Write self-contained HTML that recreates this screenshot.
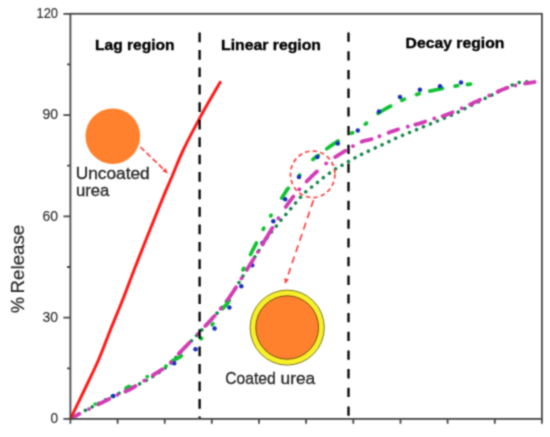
<!DOCTYPE html>
<html lang="en"><head><meta charset="utf-8"><title>Release chart</title>
<style>html,body{margin:0;padding:0;background:#fff}body{width:550px;height:437px;overflow:hidden}svg{display:block}svg text{font-family:"Liberation Sans",sans-serif}</style></head>
<body>
<svg width="550" height="437" viewBox="0 0 550 437">
<defs><filter id="bl" x="-5" y="-5" width="560" height="447" filterUnits="userSpaceOnUse" color-interpolation-filters="sRGB"><feConvolveMatrix order="3" kernelMatrix="0.0441 0.1218 0.0441 0.1218 0.3364 0.1218 0.0441 0.1218 0.0441" divisor="1" edgeMode="duplicate" preserveAlpha="true"/></filter></defs>
<g filter="url(#bl)">
<rect x="-20" y="-20" width="590" height="477" fill="#fff"/>
<g fill="none" stroke-linecap="butt">
<path d="M70.8 418.5L71.1 418.3L71.4 418.2L71.7 418.0L72.0 417.8L72.4 417.6L72.7 417.4L73.1 417.2L73.5 416.9L74.0 416.7L74.4 416.4L74.9 416.1L75.4 415.9L75.9 415.6L76.5 415.2L77.1 414.9L77.7 414.6L78.3 414.2L78.9 413.9L79.6 413.5L80.3 413.1L81.1 412.7L81.9 412.3L82.7 411.8L83.5 411.4L84.4 410.9L85.3 410.4L86.3 409.9L87.4 409.3L88.5 408.7L89.7 408.1L90.9 407.5L92.1 406.9L93.3 406.2L94.6 405.5L95.9 404.9L97.2 404.2L98.5 403.5L99.8 402.8L101.1 402.1L102.4 401.5L103.7 400.8L104.9 400.2L106.1 399.6L107.3 399.0L108.5 398.4L109.6 397.8L110.6 397.3L111.6 396.8L112.5 396.3L113.5 395.9L114.4 395.5L115.2 395.0L116.1 394.7L116.9 394.3L117.7 393.9L118.5 393.6L119.2 393.2L120.0 392.9L120.7 392.6L121.4 392.2L122.1 391.9L122.8 391.6L123.5 391.3L124.2 391.0L124.9 390.7L125.6 390.4L126.3 390.1L127.0 389.8L127.7 389.5L128.4 389.2L129.1 388.8L129.8 388.5L130.5 388.2L131.2 387.8L131.9 387.5L132.6 387.2L133.3 386.9L133.9 386.6L134.6 386.3L135.2 386.0L135.9 385.7L136.5 385.4L137.2 385.2L137.8 384.9L138.5 384.6L139.1 384.2L139.8 383.9L140.5 383.6L141.1 383.3L141.8 382.9L142.5 382.6L143.2 382.2L143.9 381.8L144.7 381.4L145.4 380.9L146.2 380.5L147.0 380.0L147.8 379.6L148.6 379.1L149.5 378.5L150.4 378.0L151.2 377.5L152.1 376.9L153.0 376.4L154.0 375.8L154.9 375.2L155.8 374.6L156.7 374.0L157.6 373.4L158.6 372.8L159.5 372.2L160.4 371.6L161.3 370.9L162.2 370.3L163.0 369.7L163.9 369.0L164.7 368.4L165.5 367.8L166.3 367.1L167.1 366.5L167.8 365.9L168.6 365.2L169.3 364.6L170.0 363.9L170.6 363.3L171.3 362.6L171.9 362.0L172.6 361.3L173.2 360.6L173.8 359.9L174.4 359.3L175.0 358.6L175.6 357.9L176.2 357.2L176.8 356.5L177.4 355.8L178.0 355.1L178.6 354.4L179.2 353.7L179.8 353.1L180.4 352.4L181.0 351.7L181.7 351.0L182.3 350.3L183.0 349.6L183.6 348.9L184.2 348.3L184.9 347.6L185.5 346.9L186.2 346.3L186.8 345.6L187.5 344.9L188.1 344.3L188.8 343.6L189.4 342.9L190.1 342.2L190.8 341.6L191.4 340.9L192.1 340.2L192.8 339.5L193.5 338.8L194.1 338.1L194.8 337.4L195.5 336.6L196.2 335.9L197.0 335.1L197.7 334.4L198.4 333.6L199.1 332.8L199.9 332.0L200.7 331.2L201.5 330.3L202.3 329.5L203.1 328.6L203.9 327.7L204.7 326.8L205.6 325.9L206.4 325.0L207.3 324.1L208.1 323.2L208.9 322.3L209.8 321.4L210.6 320.5L211.4 319.6L212.2 318.7L213.0 317.8L213.8 316.9L214.6 316.1L215.4 315.2L216.1 314.4L216.8 313.5L217.5 312.7L218.2 311.9L218.8 311.1L219.5 310.3L220.1 309.6L220.7 308.8L221.3 308.1L221.9 307.4L222.5 306.6L223.0 305.9L223.6 305.2L224.1 304.5L224.7 303.8L225.2 303.1L225.8 302.3L226.3 301.6L226.8 300.9L227.4 300.2L227.9 299.4L228.4 298.7L229.0 297.9L229.5 297.1L230.1 296.3L230.6 295.5L231.2 294.7L231.8 293.9L232.3 293.0L232.9 292.1L233.5 291.3L234.1 290.4L234.6 289.5L235.2 288.6L235.8 287.7L236.4 286.7L236.9 285.8L237.5 284.9L238.1 283.9L238.7 283.0L239.3 282.1L239.8 281.1L240.4 280.2L241.0 279.2L241.6 278.3L242.1 277.3L242.7 276.4L243.3 275.5L243.9 274.5L244.4 273.6L245.0 272.7L245.6 271.8L246.2 270.8L246.8 269.9L247.4 268.9L248.0 268.0L248.6 267.0L249.2 266.0L249.8 265.0L250.4 264.1L251.0 263.1L251.7 262.1L252.3 261.1L252.9 260.2L253.5 259.2L254.0 258.3L254.6 257.4L255.2 256.5L255.7 255.6L256.3 254.8L256.8 253.9L257.3 253.1L257.8 252.4L258.3 251.6L258.7 250.9L259.1 250.2L259.5 249.6L259.9 249.0L260.3 248.4L260.6 247.8L261.0 247.3L261.3 246.8L261.6 246.3L261.9 245.8L262.2 245.3L262.5 244.9L262.8 244.4L263.0 244.0L263.3 243.6L263.6 243.2L263.8 242.8L264.1 242.4L264.3 242.0L264.6 241.6L264.9 241.2L265.1 240.8L265.4 240.4L265.7 239.9L266.0 239.5L266.3 239.1L266.6 238.6L266.9 238.2L267.2 237.8L267.5 237.3L267.8 236.9L268.1 236.5L268.5 236.0L268.8 235.6L269.1 235.2L269.4 234.8L269.7 234.3L270.0 233.9L270.3 233.5L270.6 233.1L270.9 232.8L271.2 232.4L271.5 232.0L271.7 231.6L272.0 231.3L272.3 231.0L272.5 230.6L272.8 230.3L273.0 230.0L273.2 229.7L273.4 229.4L273.6 229.2L273.8 228.9L274.0 228.7L274.2 228.5L274.4 228.3L274.5 228.1L274.7 227.9L274.9 227.8L275.0 227.6L275.2 227.4L275.3 227.3L275.5 227.1L275.6 226.9L275.8 226.7L275.9 226.6L276.1 226.4L276.3 226.2L276.4 226.0L276.6 225.8L276.8 225.6L277.0 225.3L277.2 225.1L277.4 224.8L277.6 224.6L277.8 224.3L278.0 224.1L278.2 223.8L278.4 223.6L278.6 223.3L278.8 223.0L279.1 222.8L279.3 222.5L279.5 222.2L279.7 221.9L279.9 221.6L280.2 221.3L280.4 221.0L280.7 220.7L280.9 220.4L281.2 220.0L281.5 219.7L281.8 219.3L282.1 218.9L282.4 218.5L282.8 218.1L283.1 217.7L283.5 217.3L283.9 216.8L284.3 216.3L284.7 215.8L285.2 215.3L285.6 214.7L286.1 214.2L286.6 213.6L287.1 213.0L287.6 212.4L288.1 211.8L288.6 211.2L289.1 210.6L289.6 210.0L290.2 209.4L290.7 208.8L291.2 208.3L291.7 207.7L292.1 207.1L292.6 206.6L293.1 206.1L293.5 205.6L293.9 205.1L294.3 204.6L294.7 204.2L295.0 203.7L295.4 203.3L295.7 202.9L296.1 202.5L296.4 202.1L296.7 201.7L297.0 201.3L297.3 201.0L297.6 200.6L297.9 200.2L298.2 199.9L298.4 199.6L298.7 199.2L299.0 198.9L299.2 198.6L299.5 198.2L299.8 197.9L300.1 197.6L300.3 197.3L300.6 197.0L300.9 196.6L301.2 196.3L301.5 196.0L301.8 195.7L302.1 195.4L302.4 195.1L302.7 194.8L303.0 194.5L303.3 194.2L303.6 193.9L303.9 193.6L304.2 193.3L304.5 193.0L304.8 192.7L305.1 192.4L305.4 192.2L305.7 191.9L306.0 191.6L306.3 191.4L306.6 191.1L306.9 190.8L307.2 190.6L307.5 190.3L307.8 190.1L308.1 189.8L308.4 189.5L308.7 189.3L309.0 189.1L309.3 188.8L309.6 188.6L309.8 188.4L310.1 188.1L310.4 187.9L310.7 187.7L311.0 187.5L311.2 187.3L311.5 187.1L311.8 186.9L312.1 186.7L312.3 186.5L312.6 186.3L312.9 186.1L313.2 185.9L313.5 185.7L313.7 185.4L314.0 185.2L314.3 185.0L314.6 184.8L314.9 184.6L315.2 184.3L315.5 184.1L315.8 183.9L316.1 183.6L316.4 183.4L316.7 183.1L317.0 182.9L317.3 182.7L317.5 182.4L317.8 182.2L318.1 181.9L318.4 181.7L318.7 181.4L319.0 181.2L319.3 180.9L319.6 180.7L319.9 180.4L320.3 180.1L320.6 179.9L320.9 179.6L321.3 179.3L321.6 179.0L322.0 178.7L322.4 178.4L322.8 178.1L323.2 177.8L323.6 177.5L324.1 177.1L324.6 176.8L325.1 176.4L325.6 176.0L326.1 175.6L326.6 175.2L327.2 174.8L327.7 174.4L328.3 174.0L328.9 173.6L329.4 173.2L330.0 172.8L330.6 172.4L331.1 172.0L331.7 171.6L332.2 171.2L332.8 170.8L333.3 170.5L333.8 170.1L334.3 169.8L334.7 169.5L335.2 169.2L335.6 168.9L336.0 168.6L336.4 168.4L336.7 168.2L337.1 167.9L337.4 167.7L337.7 167.6L338.0 167.4L338.3 167.2L338.6 167.0L338.9 166.9L339.2 166.7L339.4 166.6L339.7 166.5L340.0 166.3L340.2 166.2L340.5 166.1L340.7 165.9L341.0 165.8L341.2 165.6L341.5 165.5L341.8 165.4L342.0 165.2L342.3 165.1L342.6 164.9L342.9 164.7L343.2 164.6L343.5 164.4L343.7 164.2L344.0 164.1L344.3 163.9L344.6 163.7L344.9 163.6L345.2 163.4L345.5 163.2L345.7 163.0L346.0 162.9L346.3 162.7L346.6 162.5L346.9 162.4L347.1 162.2L347.4 162.0L347.7 161.9L348.0 161.7L348.3 161.5L348.6 161.4L348.8 161.2L349.1 161.1L349.4 160.9L349.7 160.7L350.0 160.6L350.2 160.4L350.5 160.3L350.8 160.1L351.1 160.0L351.4 159.8L351.6 159.6L351.9 159.5L352.2 159.3L352.5 159.2L352.7 159.0L353.0 158.9L353.3 158.7L353.6 158.6L353.8 158.4L354.1 158.3L354.4 158.1L354.7 158.0L355.0 157.8L355.2 157.7L355.5 157.5L355.8 157.4L356.1 157.2L356.4 157.1L356.7 156.9L356.9 156.8L357.2 156.6L357.4 156.5L357.7 156.4L357.9 156.2L358.2 156.1L358.4 156.0L358.7 155.8L358.9 155.7L359.2 155.6L359.4 155.4L359.7 155.3L360.0 155.2L360.3 155.0L360.6 154.9L360.9 154.7L361.2 154.5L361.5 154.4L361.9 154.2L362.3 154.0L362.7 153.8L363.1 153.6L363.5 153.4L364.0 153.2L364.5 152.9L365.0 152.7L365.5 152.4L366.1 152.2L366.6 151.9L367.2 151.7L367.8 151.4L368.4 151.1L369.0 150.8L369.6 150.6L370.2 150.3L370.8 150.0L371.4 149.7L372.0 149.4L372.6 149.1L373.3 148.8L373.9 148.6L374.5 148.3L375.1 148.0L375.7 147.7L376.2 147.5L376.8 147.2L377.4 146.9L377.9 146.7L378.5 146.4L379.1 146.1L379.7 145.9L380.3 145.6L380.9 145.3L381.5 145.0L382.1 144.8L382.7 144.5L383.2 144.2L383.8 144.0L384.4 143.7L385.0 143.4L385.5 143.2L386.1 142.9L386.6 142.7L387.2 142.4L387.7 142.2L388.2 142.0L388.7 141.7L389.1 141.5L389.6 141.3L390.0 141.1L390.4 140.9L390.7 140.7L391.1 140.6L391.3 140.4L391.6 140.3L391.8 140.2L392.0 140.1L392.2 140.0L392.4 139.9L392.6 139.8L392.8 139.7L393.0 139.6L393.1 139.5L393.3 139.4L393.5 139.3L393.8 139.2L394.0 139.0L394.3 138.9L394.6 138.8L395.0 138.6L395.4 138.4L395.8 138.2L396.3 138.0L396.8 137.8L397.4 137.6L398.0 137.3L398.7 137.0L399.4 136.7L400.1 136.4L400.9 136.1L401.7 135.8L402.5 135.4L403.3 135.1L404.2 134.7L405.1 134.4L406.0 134.0L406.9 133.6L407.8 133.3L408.7 132.9L409.6 132.5L410.6 132.1L411.5 131.7L412.5 131.4L413.4 131.0L414.3 130.6L415.2 130.2L416.1 129.9L417.0 129.5L417.9 129.1L418.8 128.8L419.7 128.4L420.6 128.0L421.6 127.6L422.5 127.2L423.4 126.8L424.4 126.4L425.3 126.0L426.3 125.6L427.3 125.3L428.2 124.9L429.2 124.5L430.1 124.1L431.0 123.7L432.0 123.3L432.9 122.9L433.8 122.5L434.7 122.2L435.6 121.8L436.4 121.4L437.3 121.1L438.1 120.7L438.9 120.4L439.7 120.1L440.4 119.8L441.1 119.5L441.8 119.2L442.4 119.0L443.1 118.7L443.7 118.5L444.3 118.2L444.9 118.0L445.4 117.8L446.0 117.5L446.6 117.3L447.2 117.1L447.8 116.8L448.4 116.6L449.0 116.3L449.7 116.0L450.3 115.7L451.0 115.4L451.7 115.1L452.5 114.8L453.3 114.4L454.1 114.0L455.0 113.6L455.9 113.2L456.9 112.7L457.9 112.2L458.9 111.7L460.0 111.2L461.1 110.6L462.2 110.1L463.3 109.5L464.4 108.9L465.6 108.3L466.8 107.7L468.0 107.1L469.2 106.5L470.4 105.9L471.6 105.3L472.8 104.7L474.1 104.0L475.3 103.4L476.5 102.8L477.7 102.2L478.9 101.6L480.1 101.0L481.2 100.4L482.4 99.8L483.6 99.2L484.8 98.6L486.0 98.0L487.2 97.4L488.4 96.8L489.7 96.1L491.0 95.5L492.3 94.9L493.5 94.2L494.8 93.6L496.1 92.9L497.3 92.3L498.6 91.7L499.8 91.1L501.0 90.5L502.1 89.9L503.3 89.4L504.4 88.8L505.4 88.3L506.4 87.8L507.4 87.3L508.3 86.9L509.2 86.5L510.0 86.1L510.7 85.8L511.4 85.4L512.0 85.1L512.6 84.9L513.1 84.6L513.5 84.4L513.9 84.2L514.3 84.1L514.7 83.9L515.0 83.8L515.3 83.6L515.6 83.5L515.8 83.4L516.1 83.3L516.4 83.2L516.6 83.1L516.9 83.1L517.2 83.0L517.5 82.9L517.8 82.8L518.2 82.8L518.6 82.7L519.0 82.6L519.5 82.5L520.0 82.4L520.6 82.3L521.2 82.2L521.8 82.2L522.4 82.1L523.1 82.0L523.8 82.0L524.5 81.9L525.2 81.9L525.9 81.8L526.6 81.8L527.3 81.8L528.0 81.7L528.7 81.7L529.4 81.7L530.1 81.7L530.7 81.6L531.3 81.6L531.8 81.6L532.4 81.6L532.8 81.6L533.3 81.5L533.7 81.5L534.0 81.5" stroke="#15864a" stroke-width="3.5" stroke-dasharray="0.1 7.45" stroke-dashoffset="-1.66" stroke-linecap="round"/>
<path d="M95.2 404.0L95.3 404.0L95.3 404.0M112.5 395.9L112.5 395.9L112.5 395.9M126.0 388.1L126.1 388.1L126.8 387.7L127.5 387.3L128.2 386.9L129.0 386.5L129.1 386.4M147.2 376.5L147.3 376.5L147.4 376.5M165.9 366.2L166.1 366.1M172.2 361.1L172.5 360.9L172.9 360.6L173.3 360.4L173.7 360.2L174.1 360.0L174.5 359.8L174.9 359.6L175.3 359.4L175.7 359.2L176.2 359.0L176.6 358.8L177.1 358.5L177.6 358.2L178.1 358.0L178.6 357.7L179.1 357.4L179.6 357.0L180.2 356.7L180.7 356.3L181.3 355.9M201.1 338.8L201.2 338.7L201.6 338.3M212.2 324.7L212.5 324.3L212.9 323.7L212.9 323.7M222.7 308.7L222.8 308.5L223.2 308.1L223.5 307.7L223.8 307.4L224.1 307.0L224.4 306.7L224.7 306.4L225.0 306.1L225.3 305.8L225.6 305.4L226.0 305.1L226.3 304.7L226.6 304.3L226.9 303.9L227.3 303.5L227.6 303.0L228.0 302.5L228.3 301.9L228.7 301.3L229.1 300.6L229.3 300.3M243.0 269.8L243.4 269.0L243.7 268.3M250.5 254.5L250.6 254.4L250.9 253.8L251.1 253.2L251.4 252.6L251.7 252.1L252.0 251.5L252.3 250.9L252.6 250.4L252.9 249.8L253.2 249.2L253.5 248.6L253.8 248.1L254.1 247.5L254.4 246.9L254.7 246.3L255.0 245.8L255.3 245.2L255.6 244.6L255.9 244.1L256.1 243.5L256.4 243.0M263.2 229.3L263.2 229.3L263.5 228.7L263.8 228.2M270.7 215.9L270.8 215.6L271.1 215.2M281.7 198.1L282.0 197.7L282.3 197.1L282.7 196.6L283.0 196.1L283.3 195.5L283.7 195.0L284.0 194.5L284.3 194.0L284.6 193.5L285.0 193.0L285.3 192.5L285.6 192.0L285.9 191.5L286.3 191.0L286.6 190.5L286.9 190.0L287.3 189.5L287.6 189.0L288.0 188.5L288.2 188.3M299.2 175.5L299.5 175.2L299.7 175.0M312.9 159.5L313.0 159.4L313.4 159.1L313.8 158.7L314.2 158.4L314.6 158.1L314.9 157.8L315.3 157.6L315.6 157.3L316.0 157.1L316.3 156.8L316.6 156.6L317.0 156.4L317.3 156.2L317.6 156.0L317.9 155.8L318.2 155.6L318.3 155.5M326.8 148.7L326.9 148.6L327.4 148.3L327.9 147.9L328.5 147.5L329.0 147.1L329.6 146.7L330.2 146.3L330.8 145.9L331.4 145.5L332.0 145.1L332.6 144.6L333.3 144.2L333.9 143.8L334.5 143.3L335.1 142.9L335.8 142.5L336.4 142.1L337.0 141.7L337.6 141.3L338.0 141.0M351.6 133.2L352.0 133.0L352.6 132.7L352.6 132.6M365.3 124.1L365.3 124.1L365.8 123.7L366.3 123.3L366.5 123.1M378.0 113.4L378.4 113.2L378.9 112.8L379.5 112.4L380.1 112.0L380.7 111.7L381.4 111.3L382.0 110.9L382.6 110.5L383.2 110.2L383.9 109.8L384.5 109.4L385.2 109.1L385.8 108.7L386.4 108.4L387.1 108.0L387.7 107.7L388.3 107.3L388.9 107.0L389.5 106.7L390.1 106.3L390.7 106.0L390.8 106.0M401.8 100.3L401.9 100.3L402.4 100.0L403.0 99.8L403.5 99.5L404.1 99.3L404.3 99.2M416.6 94.5L416.7 94.4L417.4 94.2L418.1 94.0L418.8 93.8L419.1 93.7M429.8 91.1L430.5 91.0L431.4 90.8L432.3 90.6L433.2 90.4L434.0 90.2L434.9 90.0L435.7 89.9L436.5 89.7L437.3 89.5L438.1 89.4L438.9 89.2L439.6 89.0L440.4 88.9L441.1 88.7L441.8 88.6L442.5 88.4M455.1 86.1L455.7 86.0L456.4 85.9L457.2 85.8L457.6 85.7M467.4 84.5L467.6 84.4L468.3 84.4L468.9 84.3L469.6 84.2L470.1 84.1L470.5 84.1" stroke="#10c232" stroke-width="3.7" stroke-linecap="round"/>
<circle cx="113.4" cy="395.9" r="2.25" fill="#1a30bc" stroke="none"/>
<circle cx="174.2" cy="363.3" r="2.25" fill="#1a30bc" stroke="none"/>
<circle cx="195.5" cy="349.3" r="2.25" fill="#1a30bc" stroke="none"/>
<circle cx="214.6" cy="328.5" r="2.25" fill="#1a30bc" stroke="none"/>
<circle cx="229.4" cy="307.4" r="2.25" fill="#1a30bc" stroke="none"/>
<circle cx="241.3" cy="286.3" r="2.25" fill="#1a30bc" stroke="none"/>
<circle cx="252.2" cy="265.3" r="2.25" fill="#1a30bc" stroke="none"/>
<circle cx="262.5" cy="243.0" r="2.25" fill="#1a30bc" stroke="none"/>
<circle cx="273.3" cy="221.3" r="2.25" fill="#1a30bc" stroke="none"/>
<circle cx="285.2" cy="199.3" r="2.25" fill="#1a30bc" stroke="none"/>
<circle cx="299.0" cy="177.0" r="2.25" fill="#1a30bc" stroke="none"/>
<circle cx="317.4" cy="156.9" r="2.25" fill="#1a30bc" stroke="none"/>
<circle cx="337.8" cy="143.5" r="2.25" fill="#1a30bc" stroke="none"/>
<circle cx="357.8" cy="130.5" r="2.25" fill="#1a30bc" stroke="none"/>
<circle cx="379.0" cy="111.6" r="2.25" fill="#1a30bc" stroke="none"/>
<circle cx="400.0" cy="97.0" r="2.25" fill="#1a30bc" stroke="none"/>
<circle cx="419.9" cy="89.7" r="2.25" fill="#1a30bc" stroke="none"/>
<circle cx="440.0" cy="86.3" r="2.25" fill="#1a30bc" stroke="none"/>
<circle cx="461.0" cy="82.5" r="2.25" fill="#1a30bc" stroke="none"/>
<path d="M71.6 417.8L71.9 417.7L72.4 417.5L72.9 417.2L73.4 416.9L74.0 416.6L74.6 416.3L75.3 416.0L75.9 415.7L76.6 415.3L77.3 415.0L78.0 414.6L78.8 414.2L79.4 413.9M98.4 404.4L98.6 404.3L99.4 403.9L100.2 403.5L100.9 403.1L101.7 402.8L102.4 402.4L103.1 402.1L103.7 401.7L104.4 401.4L105.0 401.1L105.7 400.8L106.3 400.5L106.8 400.2L107.4 399.9L108.0 399.6L108.5 399.3L109.0 399.0L109.2 399.0M125.3 391.6L125.4 391.6L126.0 391.3L126.5 391.1L127.0 390.9L127.6 390.6L128.1 390.3L128.7 390.1L129.2 389.8L129.8 389.5L130.4 389.2L131.0 388.9L131.5 388.5L132.1 388.2L132.7 387.9L133.3 387.5L133.9 387.1L134.5 386.8L135.1 386.4L135.5 386.1M153.0 375.2L153.3 374.9L153.9 374.6L154.5 374.2L155.1 373.8L155.7 373.4L156.3 373.1L156.8 372.7L157.4 372.4L157.9 372.0L158.4 371.7L158.9 371.4L159.4 371.1L159.8 370.8L160.2 370.6L160.6 370.4L160.9 370.2L161.2 370.0L161.5 369.8L161.8 369.7L162.1 369.5L162.2 369.5M178.8 353.7L179.0 353.5L179.6 352.8L180.3 352.1L181.0 351.4L181.6 350.7L182.3 350.0L183.0 349.3L183.6 348.7L184.2 348.0L184.9 347.3L185.5 346.7L186.2 346.0L186.8 345.3L187.5 344.7L188.1 344.0L188.8 343.4L189.4 342.7L189.5 342.7M205.3 326.0L205.6 325.7L206.4 324.8L207.3 323.9L208.1 323.0L208.9 322.1L209.8 321.2L210.6 320.3L211.4 319.4L212.2 318.5L213.0 317.6L213.8 316.7L214.6 315.9L214.6 315.8M227.4 300.1L227.9 299.4L228.4 298.6L229.0 297.9L229.5 297.1L230.1 296.3L230.6 295.5L231.2 294.7L231.8 293.9L232.3 293.0L232.9 292.2L233.5 291.3L234.1 290.4L234.6 289.5L235.2 288.6L235.8 287.7L236.0 287.3M246.9 269.7L247.3 269.1L247.9 268.1L248.4 267.2L249.0 266.3L249.6 265.4L250.1 264.5L250.7 263.6L251.3 262.7L251.8 261.8L252.4 260.9L253.0 260.0L253.5 259.1L253.6 258.9M262.5 244.4L262.7 244.0L263.3 243.0L263.9 242.1L264.5 241.1L265.0 240.1L265.6 239.1L266.2 238.1L266.8 237.1L267.4 236.2L268.0 235.2L268.6 234.2L269.2 233.1L269.8 232.1L270.4 231.1L271.1 230.1L271.7 229.1L272.3 228.0L272.4 227.9M285.8 206.9L285.9 206.8L286.6 205.8L287.3 204.7L288.1 203.7L288.8 202.7L289.5 201.7L290.2 200.7L290.9 199.8L291.6 198.8L292.3 197.9L293.0 197.1L293.4 196.5M306.6 181.5L306.7 181.4L307.5 180.6L308.2 179.8L309.0 179.1L309.8 178.3L310.6 177.5L311.4 176.7L312.2 175.9L313.0 175.1L313.9 174.3L314.7 173.5L315.5 172.8L316.4 172.0L317.0 171.4M335.2 157.1L335.6 156.8L336.3 156.4L336.9 156.0L337.6 155.6L338.3 155.1L338.9 154.7L339.6 154.3L340.3 153.9L341.0 153.5L341.7 153.0L342.4 152.6L343.1 152.2L343.8 151.7L344.6 151.2L345.3 150.8M361.6 141.7L361.9 141.6L362.4 141.4L362.9 141.2L363.4 141.0L363.9 140.9L364.4 140.8L364.9 140.7L365.4 140.6L365.8 140.5L366.3 140.4L366.7 140.3L367.2 140.2L367.7 140.1L368.2 140.0L368.7 139.9L369.2 139.8L369.8 139.6L370.4 139.5L371.0 139.3L371.6 139.1L371.7 139.1M388.6 132.7L389.0 132.5L390.0 132.1L391.0 131.8L392.0 131.4L393.0 131.1L394.0 130.7L395.0 130.4L396.0 130.1L397.0 129.7L398.1 129.4M415.4 124.6L416.0 124.4L417.0 124.1L417.9 123.9L418.9 123.6L419.8 123.4L420.6 123.1L421.4 122.9L422.2 122.6L422.9 122.4L423.6 122.2L424.2 122.0L424.8 121.8L425.2 121.6M442.6 116.1L442.8 116.0L443.5 115.8L444.1 115.6L444.8 115.4L445.5 115.1L446.2 114.9L447.0 114.6L447.8 114.3L448.6 113.9L449.5 113.6L450.4 113.2L451.4 112.8L452.3 112.4L452.6 112.3M470.1 104.4L471.1 103.9L472.3 103.4L473.5 102.8L474.7 102.3L475.8 101.7L477.0 101.2L478.2 100.7L479.3 100.1L480.0 99.8M497.6 91.7L498.4 91.3L499.5 90.9L500.5 90.4L501.5 90.0L502.5 89.5L503.5 89.2L504.4 88.8L505.3 88.5L506.1 88.2L506.9 87.9L507.5 87.7M525.1 83.5L525.5 83.4L526.2 83.3L526.9 83.2L527.6 83.1L528.3 83.0L528.9 82.9L529.6 82.8L530.2 82.7L530.9 82.6L531.4 82.5L532.0 82.4L532.5 82.3L533.0 82.3L533.5 82.2L533.9 82.1L534.3 82.1L534.5 82.0M89.0 409.1L89.0 409.1M117.5 394.8L117.5 394.8M144.2 380.6L144.4 380.5M170.8 362.3L170.9 362.2M198.0 333.8L198.2 333.7M220.6 308.7L220.7 308.7L220.8 308.6M241.4 278.5L241.6 278.3M257.9 251.9L258.1 251.8M278.4 218.3L278.5 218.2L278.6 218.2M299.3 189.3L299.4 189.2M326.1 163.5L326.2 163.4M352.9 146.1L353.0 146.1L353.1 146.1M379.4 136.3L379.5 136.2L379.6 136.2M407.8 126.7L407.9 126.6M434.2 118.5L434.3 118.5L434.4 118.5M461.8 108.2L461.9 108.2M489.2 95.5L489.4 95.5M515.4 85.5L515.4 85.5" stroke="#d23cb4" stroke-width="3.8" stroke-linecap="round"/>
<path d="M70.9 417.9C73.2 413.2 80.0 399.1 84.6 389.5C89.2 379.9 94.2 369.9 98.5 360.0C102.8 350.1 106.5 339.7 110.4 330.0C114.3 320.3 118.0 311.6 121.9 301.8C125.8 292.0 129.7 281.3 133.7 271.0C137.7 260.7 141.2 251.8 145.9 240.0C150.6 228.2 157.7 210.6 162.0 200.0C166.3 189.4 168.4 184.9 172.0 176.5C175.6 168.1 178.8 159.3 183.5 149.5C188.2 139.7 193.8 129.0 200.0 117.6C206.2 106.2 217.3 87.3 220.8 81.3" stroke="#ff1a1a" stroke-width="3.0"/>
</g>
<line x1="199.6" y1="32.5" x2="199.6" y2="418.3" stroke="#000" stroke-width="2.3" stroke-dasharray="9.7 7.75"/>
<line x1="348.5" y1="32.5" x2="348.5" y2="416" stroke="#000" stroke-width="2.3" stroke-dasharray="9.3 9.4"/>
<rect x="70.4" y="13.8" width="471.5" height="405.1" fill="none" stroke="#484848" stroke-width="1.8"/>
<path d="M70.4 418.9v4.9M117.6 418.9v4.9M164.7 418.9v4.9M211.8 418.9v4.9M259.0 418.9v4.9M306.1 418.9v4.9M353.3 418.9v4.9M400.5 418.9v4.9M447.6 418.9v4.9M494.8 418.9v4.9M541.9 418.9v4.9M70.4 418.9h-7M70.4 368.3h-3.4M70.4 317.6h-7M70.4 267.0h-3.4M70.4 216.3h-7M70.4 165.7h-3.4M70.4 115.1h-7M70.4 64.4h-3.4M70.4 13.8h-7" stroke="#484848" stroke-width="1.8" fill="none"/>
<g font-family="Liberation Sans, sans-serif" font-size="14.4" fill="#2e2e2e" stroke="#2e2e2e" stroke-width="0.15" text-anchor="end">
<text x="58" y="423.2" textLength="7.6" lengthAdjust="spacingAndGlyphs">0</text>
<text x="58" y="321.9" textLength="15.5" lengthAdjust="spacingAndGlyphs">30</text>
<text x="58" y="220.7" textLength="15.5" lengthAdjust="spacingAndGlyphs">60</text>
<text x="58" y="119.4" textLength="15.5" lengthAdjust="spacingAndGlyphs">90</text>
<text x="58" y="18.1" textLength="21.5" lengthAdjust="spacingAndGlyphs">120</text>
</g>
<text transform="translate(24.2,313) rotate(-90)" font-family="Liberation Sans, sans-serif" font-size="17.6" fill="#2a2a2a" stroke="#2a2a2a" stroke-width="0.2" ><tspan x="0" textLength="16" lengthAdjust="spacingAndGlyphs">%</tspan> <tspan x="19.6" textLength="68.6" lengthAdjust="spacingAndGlyphs">Release</tspan></text>
<g font-family="Liberation Sans, sans-serif" font-size="15.2" font-weight="bold" fill="#000" stroke="#000" stroke-width="0.35">
<text x="95" y="50.2" textLength="79.5" lengthAdjust="spacingAndGlyphs">Lag region</text>
<text x="221" y="50.2" textLength="100" lengthAdjust="spacingAndGlyphs">Linear region</text>
<text x="405.6" y="48.2" textLength="98.8" lengthAdjust="spacingAndGlyphs">Decay region</text>
</g>
<ellipse cx="112.8" cy="136.2" rx="27.3" ry="27.8" fill="#ff812e"/>
<ellipse cx="287.2" cy="327.6" rx="37.1" ry="37.5" fill="#f6f02a" stroke="#7d7a18" stroke-width="1"/>
<ellipse cx="287.2" cy="327.5" rx="31.4" ry="31.7" fill="#ff812e" stroke="#7a4c14" stroke-width="1"/>
<g font-family="Liberation Sans, sans-serif" font-size="16.8" fill="#262626" stroke="#262626" stroke-width="0.3">
<text x="75.7" y="178.8" textLength="74" lengthAdjust="spacingAndGlyphs">Uncoated</text>
<text x="75.9" y="195.5" textLength="33.4" lengthAdjust="spacingAndGlyphs">urea</text>
<text y="383.6"><tspan x="225.3" textLength="50.4" lengthAdjust="spacingAndGlyphs">Coated</tspan> <tspan x="280.6" textLength="34.6" lengthAdjust="spacingAndGlyphs">urea</tspan></text>
</g>
<g fill="none" stroke="#ff4040" stroke-width="1.7" stroke-dasharray="4.2 2.8">
<line x1="140.4" y1="147" x2="165" y2="170.6" stroke-dasharray="5.6 2.9"/>
<ellipse cx="312.7" cy="174.3" rx="22.2" ry="23.3" stroke-dasharray="4.4 3.2"/>
<line x1="314.4" y1="197.4" x2="286.6" y2="279.5" stroke-dasharray="7 4.9" stroke-dashoffset="-3"/>
</g>
<polygon points="167.9,173.4 162.3,171.3 165.6,167.9" fill="#ff3a3a"/>
<polygon points="284.9,284.0 284.4,278.0 288.9,279.6" fill="#ff3a3a"/>
</g></svg>
</body></html>
